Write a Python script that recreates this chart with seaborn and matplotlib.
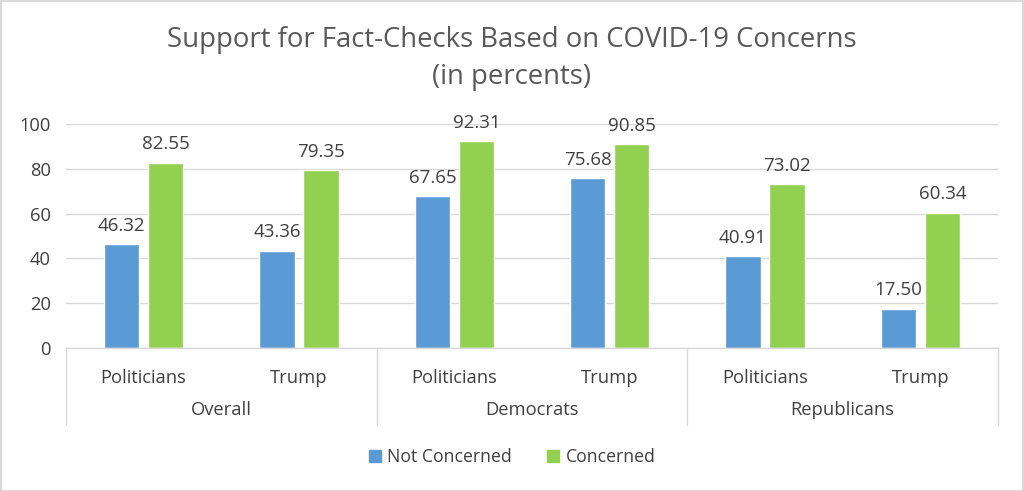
import matplotlib
matplotlib.use("Agg")
import matplotlib.pyplot as plt
import seaborn as sns
import pandas as pd
from matplotlib.patches import Rectangle
from matplotlib.transforms import blended_transform_factory

groups = ["Overall", "Democrats", "Republicans"]
subcats = ["Politicians", "Trump"]
series = ["Not Concerned", "Concerned"]
not_concerned = [46.32, 43.36, 67.65, 75.68, 40.91, 17.50]
concerned = [82.55, 79.35, 92.31, 90.85, 73.02, 60.34]
colors = ["#5B9BD5", "#92D050"]
title = "Support for Fact-Checks Based on COVID-19 Concerns\n(in percents)"

cats = [f"{g}|{s}" for g in groups for s in subcats]
rows = []
for i, c in enumerate(cats):
    rows.append({"cat": c, "series": series[0], "value": not_concerned[i]})
    rows.append({"cat": c, "series": series[1], "value": concerned[i]})
df = pd.DataFrame(rows)

sns.set_theme(style="white")
plt.rcParams["font.family"] = ["Open Sans", "DejaVu Sans"]
text_color = "#404040"

fig = plt.figure(figsize=(10.24, 4.91), dpi=100)
ax = fig.add_axes([66 / 1024, 1 - 348 / 491, (998 - 66) / 1024, (348 - 124) / 491])

sns.barplot(data=df, x="cat", y="value", hue="series", order=cats, hue_order=series,
            palette=colors, width=0.566, gap=0.2, ax=ax, legend=False, saturation=1)

for cont in ax.containers:
    ax.bar_label(cont, fmt="%.2f", padding=7, fontsize=13.5, color=text_color)

ax.set_ylim(0, 100)
ax.set_yticks([0, 20, 40, 60, 80, 100])
ax.set_xlim(-0.5, len(cats) - 0.5)
ax.yaxis.grid(True, color="#d9d9d9", linewidth=1)
ax.set_axisbelow(True)
for s in ["top", "right", "left"]:
    ax.spines[s].set_visible(False)
ax.spines["bottom"].set_color("#d9d9d9")
ax.spines["bottom"].set_linewidth(1)
ax.set_xlabel("")
ax.set_ylabel("")
ax.set_xticks(range(len(cats)))
ax.set_xticklabels([c.split("|")[1] for c in cats])
ax.tick_params(axis="x", length=0, pad=15, labelsize=13.2, labelcolor=text_color)
ax.tick_params(axis="y", length=0, pad=11, labelsize=13.2, labelcolor=text_color)

trans = blended_transform_factory(ax.transData, ax.transAxes)
ax_h_px = 348 - 124
for k in range(len(groups) + 1):
    xpos = -0.5 + 2 * k
    ax.plot([xpos, xpos], [0, -(425 - 348) / ax_h_px], transform=trans,
            color="#d9d9d9", linewidth=1, clip_on=False)
for k, g in enumerate(groups):
    ax.text(0.5 + 2 * k, -(410 - 348) / ax_h_px, g, transform=trans, ha="center",
            va="center", fontsize=13.2, color=text_color)

fig.text(0.5, 1 - 58.5 / 491, title, ha="center", va="center", fontsize=19.8,
         color="#595959", linespacing=1.4)

handles = [Rectangle((0, 0), 1, 1, color=c) for c in colors]
fig.legend(handles, series, loc="center", bbox_to_anchor=(0.5, 1 - 457 / 491), ncol=2,
           frameon=False, fontsize=12.7, handlelength=0.7, handleheight=0.7,
           handletextpad=0.35, columnspacing=2.0, labelcolor=text_color)

fig.patches.append(Rectangle((0.001, 0.001), 0.998, 0.997, transform=fig.transFigure,
                             fill=False, edgecolor="#d9d9d9", linewidth=1.5))

fig.savefig("out.png", dpi=100)
